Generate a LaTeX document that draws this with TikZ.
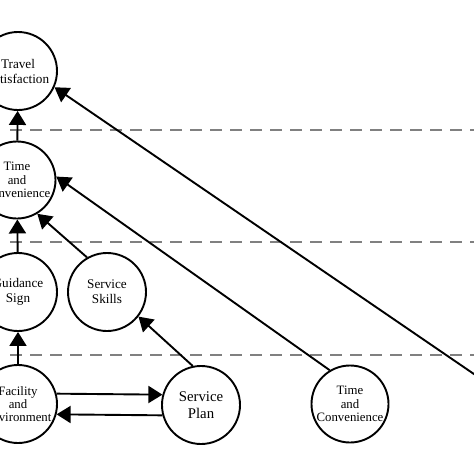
\documentclass[tikz,border=0pt]{standalone}
\usepackage{fontspec}
\setmainfont{Liberation Serif}
\usetikzlibrary{arrows.meta}
\begin{document}
\begin{tikzpicture}[x=1pt,y=-1pt,
  circ/.style={circle,draw,line width=1.9pt,minimum size=78pt,inner sep=0pt,align=center},
  fsmall/.style={font=\fontsize{12.8}{13.2}\selectfont},
  fmid/.style={font=\fontsize{13.2}{15}\selectfont},
  fbig/.style={font=\fontsize{14.8}{17}\selectfont},
  arr/.style={line width=1.9pt,-{Triangle[length=14pt,width=17pt]}},
  sep/.style={draw=black!50,line width=1.4pt,dash pattern=on 12pt off 8pt}]
\useasboundingbox (0,0) rectangle (474,474);
\clip (0,0) rectangle (474,474);
\fill[white] (0,0) rectangle (474,474);
\node[circ,fmid] (ts) at (18,71) {Travel\\Satisfaction};
\node[circ,fsmall,minimum size=77pt] (tc1) at (17,180) {Time\\and\\Convenience};
\node[circ,fmid] (gs) at (18,292) {Guidance\\Sign};
\node[circ,fmid] (ss) at (107,292) {Service\\Skills};
\node[circ,fsmall] (fe) at (18,404) {Facility\\and\\Environment};
\node[circ,fbig] (sp) at (201,405) {Service\\Plan};
\node[circ,fsmall,minimum size=77pt] (tc2) at (350,404) {Time\\and\\Convenience};
\coordinate (off) at (490,385);
\draw[sep] (10,130) -- (474,130);
\draw[sep] (10,242) -- (474,242);
\draw[sep] (10,355) -- (474,355);
\draw[arr] (tc1) -- (ts);
\draw[arr] (off) -- (ts.-24);
\draw[arr] (tc2.121) -- (tc1.5);
\draw[arr] (ss.120) -- (tc1.-59);
\draw[arr] (gs) -- (tc1);
\draw[arr] (fe) -- (gs);
\draw[arr] (sp.102) -- (ss.-38);
\draw[arr] (fe.15) -- (sp.165);
\draw[arr] (sp.195) -- (fe.-15);
\end{tikzpicture}
\end{document}
